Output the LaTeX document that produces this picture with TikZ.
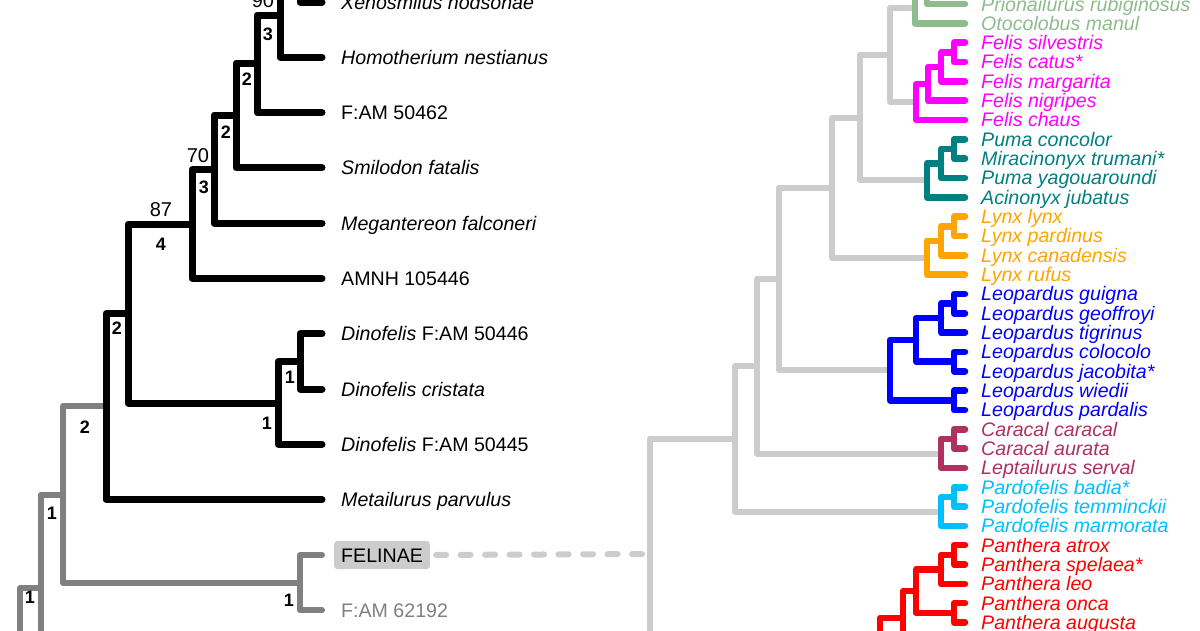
\documentclass[tikz,border=0pt]{standalone}
\usepackage{fontspec}
\setmainfont{Liberation Sans}
\definecolor{gL}{HTML}{808080}
\definecolor{gR}{HTML}{CCCCCC}
\definecolor{cG}{HTML}{8FBC8F}
\definecolor{cM}{HTML}{FF00FF}
\definecolor{cT}{HTML}{008080}
\definecolor{cO}{HTML}{FFA500}
\definecolor{cB}{HTML}{0000FF}
\definecolor{cR}{HTML}{B03060}
\definecolor{cC}{HTML}{00BFFF}
\definecolor{cP}{HTML}{FF0000}
\begin{document}
\begin{tikzpicture}[x=1pt,y=-1pt,
  blk/.style={line width=7pt,black,line cap=round,line join=round},
  lgr/.style={line width=6pt,color=gL,line cap=round,line join=round},
  rgr/.style={line width=6pt,color=gR,line cap=round,line join=round},
  cl/.style={line width=6.5pt,line cap=round,line join=round},
  tax/.style={anchor=west,inner sep=0pt,font=\fontsize{19.6}{20}\selectfont,text height=14pt,text depth=0pt},
  bs/.style={inner sep=0pt,font=\fontsize{20}{20}\selectfont,text height=14pt,text depth=0pt},
  br/.style={inner sep=0pt,font=\fontsize{18}{18}\selectfont\bfseries,text height=13pt,text depth=0pt}]
\useasboundingbox (0,0) rectangle (1200,630);
\clip (0,0) rectangle (1200,630);
\fill[white] (0,0) rectangle (1200,630);
% ---------- left tree coordinates ----------
\foreach \i in {0,...,11}{
  \pgfmathsetmacro\yy{2+55.3*\i}
  \coordinate (t\i) at (322,\yy);
}
\coordinate (tX) at (322,-56);
\coordinate (X) at (300,-27);
\coordinate (H) at (280,15);
\coordinate (N3) at (257,63);
\coordinate (N2) at (236,115);
\coordinate (N1) at (214,169.5);
\coordinate (N0) at (192,224);
\coordinate (M) at (128,313.5);
\coordinate (D2) at (300,361.5);
\coordinate (D) at (278,403);
\coordinate (K) at (106,406);
\coordinate (G1) at (63,494.5);
\coordinate (F) at (300,582.6);
\coordinate (G2) at (41,588);
\coordinate (G2b) at (41,660);
\coordinate (G3b) at (20,660);
% gray part
\draw[lgr] (K) -| (G1) |- (F);
\draw[lgr] (t10) -| (F) |- (t11);
\draw[lgr] (G1) -| (G2) -- (G2b);
\draw[lgr] (G2) -| (G3b);
% black part
\draw[blk] (tX) -| (X) |- (t0);
\draw[blk] (X) -| (H) |- (t1);
\draw[blk] (H) -| (N3) |- (t2);
\draw[blk] (N3) -| (N2) |- (t3);
\draw[blk] (N2) -| (N1) |- (t4);
\draw[blk] (N1) -| (N0) |- (t5);
\draw[blk] (N0) -| (M) |- (D);
\draw[blk] (t6) -| (D2) |- (t7);
\draw[blk] (D2) -| (D) |- (t8);
\draw[blk] (M) -| (K) |- (t9);
% left labels
\node[tax] (L0) at ([xshift=19pt]t0) {\textit{Xenosmilus hodsonae}};
\node[tax] (L1) at ([xshift=19pt]t1) {\textit{Homotherium nestianus}};
\node[tax] (L2) at ([xshift=19pt]t2) {F:AM 50462};
\node[tax] (L3) at ([xshift=19pt]t3) {\textit{Smilodon fatalis}};
\node[tax] (L4) at ([xshift=19pt]t4) {\textit{Megantereon falconeri}};
\node[tax] (L5) at ([xshift=19pt]t5) {AMNH 105446};
\node[tax] (L6) at ([xshift=19pt]t6) {\textit{Dinofelis} F:AM 50446};
\node[tax] (L7) at ([xshift=19pt]t7) {\textit{Dinofelis cristata}};
\node[tax] (L8) at ([xshift=19pt]t8) {\textit{Dinofelis} F:AM 50445};
\node[tax] (L9) at ([xshift=19pt]t9) {\textit{Metailurus parvulus}};
\node[tax,fill=gR,rounded corners=3pt,inner xsep=7pt,inner ysep=7pt] (fel) at ([xshift=12pt]t10) {FELINAE};
\node[tax,text=gL] (L11) at ([xshift=19pt]t11) {F:AM 62192};
% support values
\node[bs] (b90) at (263,0) {90};
\node[br] (r1) at (268,33.5) {3};
\node[br] (r2) at (247,79) {2};
\node[br] (r3) at (226,132) {2};
\node[bs] (b70) at (198,155) {70};
\node[br] (r4) at (204,187) {3};
\node[bs] (b87) at (161,209) {87};
\node[br] (r5) at (161,244) {4};
\node[br] (r6) at (117,328) {2};
\node[br] (r7) at (290,377) {1};
\node[br] (r8) at (267,423) {1};
\node[br] (r9) at (85,427) {2};
\node[br] (r10) at (52,513) {1};
\node[br] (r11) at (289,600) {1};
\node[br] (r12) at (30,597) {1};
% ---------- right tree ----------
\coordinate (R0) at (650,554);
\coordinate (R0b) at (650,660);
\coordinate (R1) at (735,438.9);
\coordinate (R2) at (757,366.2);
\coordinate (R3) at (779,278.9);
\coordinate (R4) at (832,187.6);
\coordinate (R5) at (860,117.6);
\coordinate (R6) at (890,54.8);
\draw[rgr,dash pattern=on 10pt off 14.5pt,shorten <=6pt] (fel.east) -- (R0);
\foreach \i in {0,...,32}{
  \pgfmathsetmacro\yy{4+19.33*\i}
  \coordinate (p\i) at (965,\yy);
}
\coordinate (pU) at (965,-20);
\coordinate (gA) at (927,-8);
\coordinate (Grn) at (915,7.65);
\coordinate (f1) at (954,52.35);
\coordinate (f2) at (941,66.8);
\coordinate (f3) at (928,83.75);
\coordinate (Fel) at (916,101.9);
\coordinate (u1) at (954,149);
\coordinate (u2) at (941,163.5);
\coordinate (Pum) at (927,180.4);
\coordinate (l1) at (954,226.35);
\coordinate (l2) at (941,240.8);
\coordinate (Lyn) at (927,257.7);
\coordinate (a1) at (954,303.65);
\coordinate (a2) at (941,318.1);
\coordinate (a3) at (954,361.65);
\coordinate (a4) at (916,339.9);
\coordinate (a5) at (954,400.3);
\coordinate (Leo) at (890,370.1);
\coordinate (c1) at (954,439);
\coordinate (Car) at (941,453.5);
\coordinate (d1) at (954,496.95);
\coordinate (Par) at (941,511.5);
\coordinate (e1) at (954,554.9);
\coordinate (e2) at (941,569.5);
\coordinate (e3) at (954,612.9);
\coordinate (e4) at (916,591.2);
\coordinate (e5) at (903,618);
\coordinate (e5b) at (903,660);
\coordinate (e6b) at (880,660);
\draw[rgr] (R1) -| (R0) -- (R0b);
\draw[rgr] (R2) -| (R1) |- (Par);
\draw[rgr] (R3) -| (R2) |- (Car);
\draw[rgr] (R4) -| (R3) |- (Leo);
\draw[rgr] (R5) -| (R4) |- (Lyn);
\draw[rgr] (R6) -| (R5) |- (Pum);
\draw[rgr] (Grn) -| (R6) |- (Fel);
% clades
\draw[cl,cG] (pU) -| (gA) |- (p0);
\draw[cl,cG] (gA) -| (Grn) |- (p1);
\draw[cl,cM] (p2) -| (f1) |- (p3);
\draw[cl,cM] (f1) -| (f2) |- (p4);
\draw[cl,cM] (f2) -| (f3) |- (p5);
\draw[cl,cM] (f3) -| (Fel) |- (p6);
\draw[cl,cT] (p7) -| (u1) |- (p8);
\draw[cl,cT] (u1) -| (u2) |- (p9);
\draw[cl,cT] (u2) -| (Pum) |- (p10);
\draw[cl,cO] (p11) -| (l1) |- (p12);
\draw[cl,cO] (l1) -| (l2) |- (p13);
\draw[cl,cO] (l2) -| (Lyn) |- (p14);
\draw[cl,cB] (p15) -| (a1) |- (p16);
\draw[cl,cB] (a1) -| (a2) |- (p17);
\draw[cl,cB] (p18) -| (a3) |- (p19);
\draw[cl,cB] (a2) -| (a4) |- (a3);
\draw[cl,cB] (p20) -| (a5) |- (p21);
\draw[cl,cB] (a4) -| (Leo) |- (a5);
\draw[cl,cR] (p22) -| (c1) |- (p23);
\draw[cl,cR] (c1) -| (Car) |- (p24);
\draw[cl,cC] (p25) -| (d1) |- (p26);
\draw[cl,cC] (d1) -| (Par) |- (p27);
\draw[cl,cP] (p28) -| (e1) |- (p29);
\draw[cl,cP] (e1) -| (e2) |- (p30);
\draw[cl,cP] (p31) -| (e3) |- (p32);
\draw[cl,cP] (e2) -| (e4) |- (e3);
\draw[cl,cP] (e4) -| (e5) -- (e5b);
\draw[cl,cP] (e5) -| (e6b);
% right labels
\foreach \i/\txt/\col in {
 0/Prionailurus rubiginosus/cG, 1/Otocolobus manul/cG,
 2/Felis silvestris/cM, 3/Felis catus*/cM, 4/Felis margarita/cM, 5/Felis nigripes/cM, 6/Felis chaus/cM,
 7/Puma concolor/cT, 8/Miracinonyx trumani*/cT, 9/Puma yagouaroundi/cT, 10/Acinonyx jubatus/cT,
 11/Lynx lynx/cO, 12/Lynx pardinus/cO, 13/Lynx canadensis/cO, 14/Lynx rufus/cO,
 15/Leopardus guigna/cB, 16/Leopardus geoffroyi/cB, 17/Leopardus tigrinus/cB, 18/Leopardus colocolo/cB,
 19/Leopardus jacobita*/cB, 20/Leopardus wiedii/cB, 21/Leopardus pardalis/cB,
 22/Caracal caracal/cR, 23/Caracal aurata/cR, 24/Leptailurus serval/cR,
 25/Pardofelis badia*/cC, 26/Pardofelis temminckii/cC, 27/Pardofelis marmorata/cC,
 28/Panthera atrox/cP, 29/Panthera spelaea*/cP, 30/Panthera leo/cP, 31/Panthera onca/cP, 32/Panthera augusta/cP}{
  \node[tax,text=\col] (Q\i) at ([xshift=16pt]p\i) {\textit{\txt}};
}
\end{tikzpicture}
\end{document}
